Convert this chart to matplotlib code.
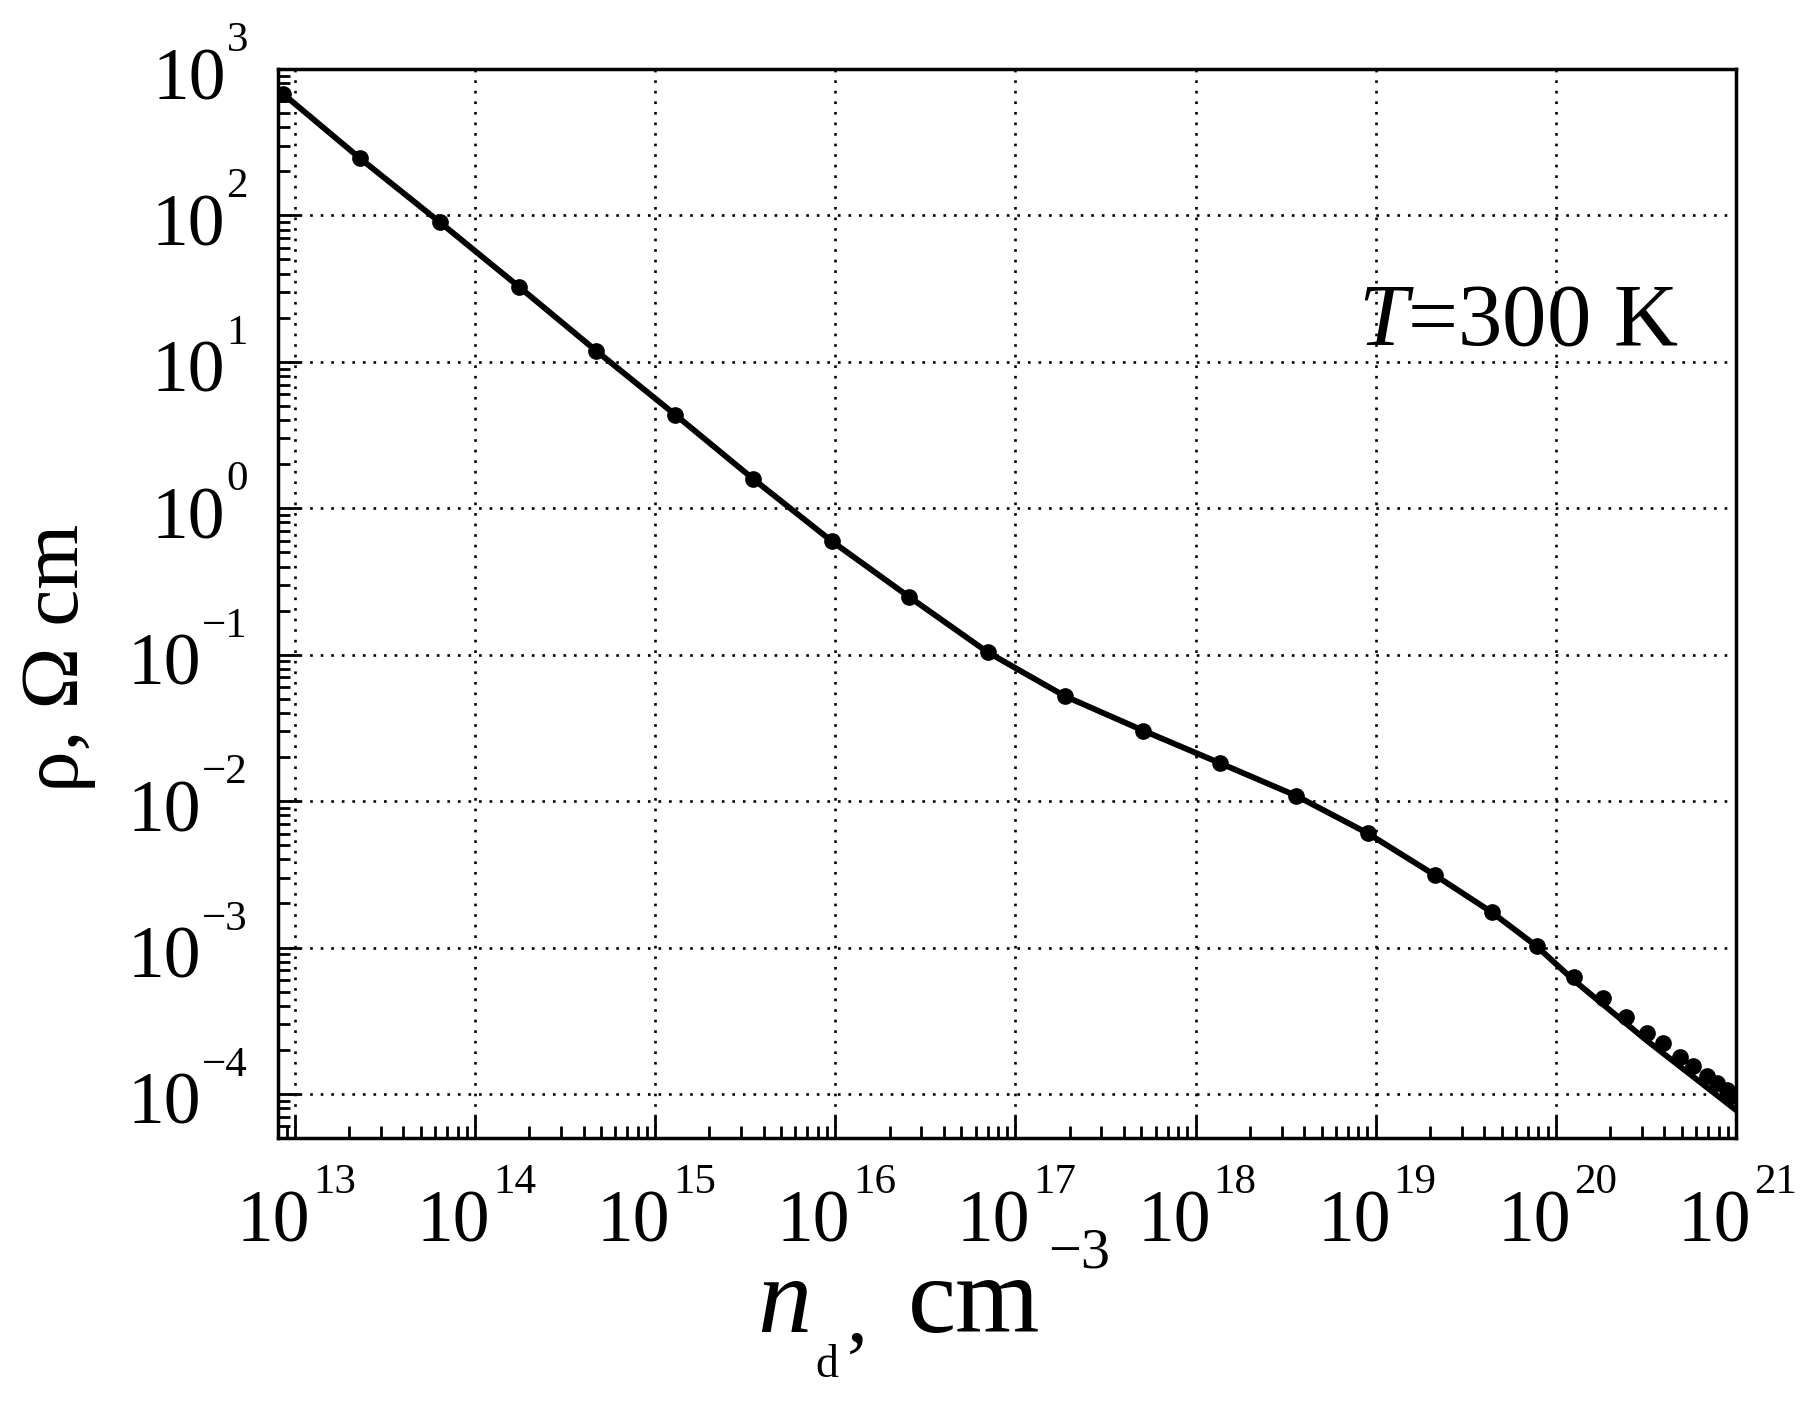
"""
Resistivity vs donor concentration at T = 300 K (log-log).
"""

import numpy as np
import matplotlib
matplotlib.use("Agg")
import matplotlib.pyplot as plt
from matplotlib.ticker import LogLocator, NullFormatter
from matplotlib.transforms import offset_copy

FIG_PATH = "out.png"

nd_points = [8.61e12, 2.30e13, 6.40e13, 1.75e14, 4.70e14, 1.29e15, 3.51e15,
             9.53e15, 2.57e16, 7.00e16, 1.88e17, 5.12e17, 1.36e18, 3.60e18,
             9.06e18, 2.14e19, 4.41e19, 7.82e19, 1.26e20, 1.82e20, 2.44e20,
             3.19e20, 3.92e20, 4.86e20, 5.75e20, 6.87e20, 7.82e20, 8.87e20,
             9.46e20]
rho_points = [675, 245, 89.5, 32.6, 11.9, 4.36, 1.58,
              0.597, 0.248, 0.104, 0.0521, 0.0303, 0.0182, 0.0109,
              6.01e-3, 3.11e-3, 1.74e-3, 1.02e-3, 6.32e-4, 4.55e-4, 3.37e-4,
              2.62e-4, 2.23e-4, 1.79e-4, 1.56e-4, 1.33e-4, 1.19e-4, 1.06e-4,
              9.68e-5]

# calculated curve
curve_nd = [8.05e12, 2.30e13, 6.40e13, 1.75e14, 4.70e14, 1.29e15, 3.51e15,
            9.53e15, 2.57e16, 7.00e16, 1.88e17, 5.12e17, 1.36e18, 3.60e18,
            9.06e18, 2.14e19, 4.41e19, 7.82e19, 1.26e20, 3.19e20, 1.00e21]
curve_rho = [723, 245, 89.5, 32.6, 11.9, 4.36, 1.58,
             0.597, 0.248, 0.104, 0.0521, 0.0303, 0.0182, 0.0109,
             6.01e-3, 3.11e-3, 1.74e-3, 1.02e-3, 5.96e-4, 2.32e-4, 7.76e-5]

# tick labels, written as "10" with a raised exponent like the original
x_tick_values = [1e13, 1e14, 1e15, 1e16, 1e17, 1e18, 1e19, 1e20, 1e21]
x_tick_exps = ["13", "14", "15", "16", "17", "18", "19", "20", "21"]
y_tick_values = [1e3, 1e2, 1e1, 1e0, 1e-1, 1e-2, 1e-3, 1e-4]
y_tick_exps = ["3", "2", "1", "0", "\u22121", "\u22122", "\u22123", "\u22124"]

W, H = 1811, 1402
BASE_FS = 53
EXP_FS = 31


def fx(px):
    return px / W


def fy(py):
    return 1 - py / H


def main() -> None:
    plt.rcParams["font.family"] = ["Liberation Serif", "DejaVu Serif"]
    plt.rcParams["mathtext.fontset"] = "custom"
    plt.rcParams["mathtext.rm"] = "Liberation Serif"
    plt.rcParams["mathtext.it"] = "Liberation Serif:italic"

    fig = plt.figure(figsize=(W / 100, H / 100), dpi=100)
    ax = fig.add_axes([fx(278), fy(1138), fx(1736) - fx(278), fy(69) - fy(1138)])

    ax.plot(curve_nd, curve_rho, color="black", lw=4.2, zorder=3)
    ax.plot(nd_points, rho_points, "o", color="black", ms=11, zorder=4)

    ax.set_xscale("log")
    ax.set_yscale("log")
    ax.set_xlim(8.05e12, 1e21)
    ax.set_ylim(5e-5, 1e3)

    for axis in (ax.xaxis, ax.yaxis):
        axis.set_major_locator(LogLocator(base=10, numticks=30))
        axis.set_minor_locator(LogLocator(base=10, subs=np.arange(2, 10), numticks=200))
        axis.set_minor_formatter(NullFormatter())

    ax.tick_params(which="both", direction="in", top=False, right=False,
                   color="black", width=2, labelleft=False, labelbottom=False)
    ax.tick_params(which="major", length=16)
    ax.tick_params(which="minor", length=8.5)

    ax.grid(which="major", color="black", lw=1.9, linestyle=(0, (1, 3)))
    for sp in ax.spines.values():
        sp.set_linewidth(2.5)

    # x tick labels
    tx = ax.get_xaxis_transform()
    for v, e in zip(x_tick_values, x_tick_exps):
        ax.text(v, 0, "10", transform=offset_copy(tx, fig=fig, x=15, y=-104, units="dots"),
                ha="right", va="baseline", fontsize=BASE_FS, clip_on=False)
        ax.text(v, 0, e, transform=offset_copy(tx, fig=fig, x=18, y=-55, units="dots"),
                ha="left", va="baseline", fontsize=EXP_FS, clip_on=False)

    # y tick labels
    ty = ax.get_yaxis_transform()
    for v, e in zip(y_tick_values, y_tick_exps):
        t_exp = ax.text(0, v, e, transform=offset_copy(ty, fig=fig, x=-30, y=18, units="dots"),
                        ha="right", va="baseline", fontsize=EXP_FS, clip_on=False)
        ax.annotate("10", xy=(0, v), xycoords=(t_exp, ty), xytext=(-1, -30),
                    textcoords="offset pixels", ha="right", va="baseline",
                    fontsize=BASE_FS, annotation_clip=False)

    # T = 300 K annotation
    fig.text(fx(1678), fy(345), r"$T$=300 K", fontsize=64, ha="right", va="baseline")

    # y label
    fig.text(fx(58), fy(658), "ρ, Ω cm", fontsize=60, rotation=90,
             ha="center", va="center")

    # x label, assembled like the original
    fig.text(fx(757), fy(1332), "n", fontsize=78, style="italic", ha="left", va="baseline")
    fig.text(fx(815), fy(1377), "d", fontsize=33, ha="left", va="baseline")
    fig.text(fx(847), fy(1342), ",", fontsize=60, ha="left", va="baseline")
    fig.text(fx(908), fy(1332), "cm", fontsize=78, ha="left", va="baseline")
    fig.text(fx(1048), fy(1268), "\u22123", fontsize=42, ha="left", va="baseline")

    fig.savefig(FIG_PATH, dpi=100)
    plt.close(fig)


if __name__ == "__main__":
    main()
